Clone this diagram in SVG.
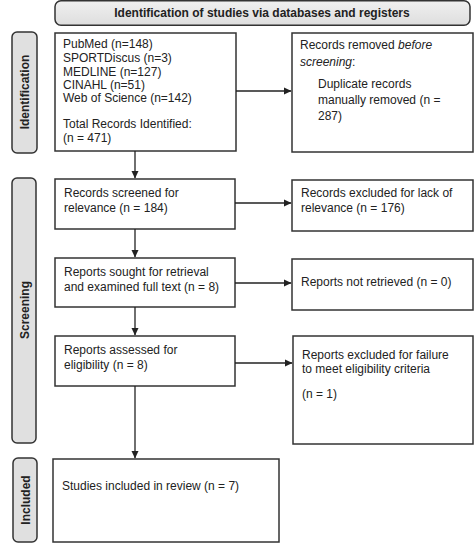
<svg xmlns="http://www.w3.org/2000/svg" width="474" height="552" viewBox="0 0 474 552">
<defs>
<linearGradient id="hg" x1="0" y1="0" x2="0" y2="1"><stop offset="0" stop-color="#f0f0f0"/><stop offset="1" stop-color="#dedede"/></linearGradient>
<marker id="ah" markerWidth="8" markerHeight="8" refX="7" refY="4" orient="auto" markerUnits="userSpaceOnUse"><path d="M0,0.5 L7.5,4 L0,7.5 Z" fill="#222"/></marker>
<style>
.box{fill:#fff;stroke:#333;stroke-width:1.5}
.side{fill:#e0e0e0;stroke:#333;stroke-width:1.5}
.t{font-family:"Liberation Sans",Arial,sans-serif;font-size:12px;fill:#222}
.b{font-family:"Liberation Sans",Arial,sans-serif;font-size:12px;font-weight:bold;fill:#222}
.c{stroke:#222;stroke-width:1.3;fill:none;marker-end:url(#ah)}
</style>
</defs>
<rect width="474" height="552" fill="#fff"/>
<g id="header"><rect x="55" y="0.75" width="415" height="24.5" rx="6" fill="url(#hg)" stroke="#333" stroke-width="1.5"/><text class="b" x="262" y="17" text-anchor="middle">Identification of studies via databases and registers</text></g>
<g id="lbl-identification"><rect class="side" x="12" y="32" width="25" height="121" rx="5"/><text class="b" transform="translate(29,92) rotate(-90)" text-anchor="middle">Identification</text></g>
<g id="lbl-screening"><rect class="side" x="12" y="178" width="24" height="265" rx="5"/><text class="b" transform="translate(28.5,310) rotate(-90)" text-anchor="middle">Screening</text></g>
<g id="lbl-included"><rect class="side" x="13" y="458" width="24" height="84" rx="5"/><text class="b" transform="translate(29.5,500) rotate(-90)" text-anchor="middle">Included</text></g>
<g id="n1"><rect class="box" x="55" y="33" width="181" height="118"/>
<text class="t" x="63" y="47.5">PubMed (n=148)</text>
<text class="t" x="63" y="61.5">SPORTDiscus (n=3)</text>
<text class="t" x="63" y="75.5">MEDLINE (n=127)</text>
<text class="t" x="63" y="88.5">CINAHL (n=51)</text>
<text class="t" x="63" y="101.5">Web of Science (n=142)</text>
<text class="t" x="63" y="127.5">Total Records Identified:</text>
<text class="t" x="63" y="141.5">(n = 471)</text></g>
<g id="n2"><rect class="box" x="292" y="33" width="181" height="119"/>
<text class="t" x="300" y="48.5">Records removed <tspan font-style="italic">before</tspan></text>
<text class="t" x="300" y="65.5"><tspan font-style="italic">screening</tspan>:</text>
<text class="t" x="318" y="87.5">Duplicate records</text>
<text class="t" x="318" y="103.5">manually removed (n =</text>
<text class="t" x="318" y="119.5">287)</text></g>
<g id="n3"><rect class="box" x="55" y="179" width="180" height="50"/>
<text class="t" x="64" y="196.5">Records screened for</text>
<text class="t" x="64" y="211.5">relevance (n = 184)</text></g>
<g id="n4"><rect class="box" x="292" y="180" width="181" height="51"/>
<text class="t" x="301" y="196.5">Records excluded for lack of</text>
<text class="t" x="301" y="211.5">relevance (n = 176)</text></g>
<g id="n5"><rect class="box" x="55" y="258" width="180" height="49"/>
<text class="t" x="64" y="275.5">Reports sought for retrieval</text>
<text class="t" x="64" y="290.5">and examined full text (n = 8)</text></g>
<g id="n6"><rect class="box" x="292" y="259" width="181" height="51"/>
<text class="t" x="301" y="285.5">Reports not retrieved (n = 0)</text></g>
<g id="n7"><rect class="box" x="55" y="336" width="180" height="50"/>
<text class="t" x="64" y="353.5">Reports assessed for</text>
<text class="t" x="64" y="368.5">eligibility (n = 8)</text></g>
<g id="n8"><rect class="box" x="293" y="336" width="180" height="108"/>
<text class="t" x="302" y="358.5">Reports excluded for failure</text>
<text class="t" x="302" y="372.5">to meet eligibility criteria</text>
<text class="t" x="302" y="397.5">(n = 1)</text></g>
<g id="n9"><rect class="box" x="53" y="459" width="226" height="83"/>
<text class="t" x="62" y="489.5">Studies included in review (n = 7)</text></g>
<g id="connectors">
<line class="c" x1="236" y1="91" x2="291" y2="91"/>
<line class="c" x1="135" y1="151" x2="135" y2="178"/>
<line class="c" x1="235" y1="203" x2="291" y2="203"/>
<line class="c" x1="135" y1="229" x2="135" y2="257"/>
<line class="c" x1="235" y1="283" x2="291" y2="283"/>
<line class="c" x1="135" y1="307" x2="135" y2="335"/>
<line class="c" x1="235" y1="363" x2="292" y2="363"/>
<line class="c" x1="135" y1="386" x2="135" y2="458"/>
</g>
</svg>
